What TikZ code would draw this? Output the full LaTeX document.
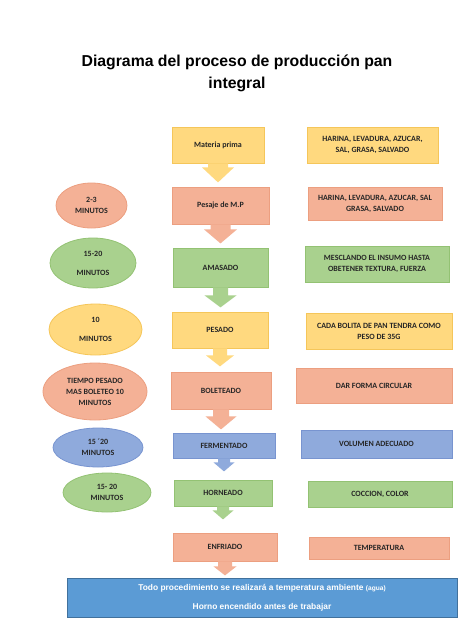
\documentclass[tikz,border=0pt]{standalone}
\usepackage{fontspec}
\setmainfont{Carlito}
\newfontfamily\titlefont{Liberation Sans}
\usetikzlibrary{shapes.geometric,calc}
\definecolor{yel}{HTML}{FFD97F}
\definecolor{yelB}{HTML}{F5C65A}
\definecolor{sal}{HTML}{F4B196}
\definecolor{salB}{HTML}{EC9F80}
\definecolor{grn}{HTML}{A9D18E}
\definecolor{grnB}{HTML}{93C273}
\definecolor{blu}{HTML}{8FAADC}
\definecolor{bluB}{HTML}{7894D0}
\definecolor{bot}{HTML}{5B9BD5}
\definecolor{botB}{HTML}{41719C}
\newcommand\barrow[6]{% node, colour, shaft half, head half, head start, tip
  \fill[#2] ($(#1.south)+(-#3,0)$) -- ($(#1.south)+(#3,0)$) -- ($(#1.south)+(#3,#5)$)
    -- ($(#1.south)+(#4,#5)$) -- ($(#1.south)+(0,#6)$) -- ($(#1.south)+(-#4,#5)$)
    -- ($(#1.south)+(-#3,#5)$) -- cycle;}
\tikzset{
  box/.style={rectangle, draw=#1B, fill=#1, line width=0.8pt, inner sep=0pt,
    align=center, text=black!85, font=\fontsize{8}{11}\selectfont\bfseries},
  oval/.style={ellipse, draw=#1B, fill=#1, line width=0.8pt, inner sep=0pt,
    align=center, text=black!85, font=\fontsize{8}{11}\selectfont\bfseries},
}
\begin{document}
\begin{tikzpicture}[x=1pt,y=-1pt]
\useasboundingbox[fill=white] (0,0) rectangle (474,632);
% title
\node[font=\titlefont\fontsize{15.8}{22}\selectfont\bfseries, align=center] (title) at (237,73.5)
  {Diagrama del proceso de producción pan\\integral};
% centre column
\node[box=yel, minimum width=92, minimum height=36] (c1) at (218,145) {Materia prima};
\node[box=sal, minimum width=97, minimum height=37] (c2) at (220.5,205.5) {Pesaje de M.P};
\node[box=grn, minimum width=95, minimum height=39] (c3) at (220.5,267.5) {AMASADO};
\node[box=yel, minimum width=96, minimum height=36] (c4) at (220,330) {PESADO};
\node[box=sal, minimum width=100, minimum height=37] (c5) at (221,390.5) {BOLETEADO};
\node[box=blu, minimum width=102, minimum height=25] (c6) at (224,445.5) {FERMENTADO};
\node[box=grn, minimum width=98, minimum height=26] (c7) at (223,493) {HORNEADO};
\node[box=sal, minimum width=104, minimum height=28] (c8) at (225,547) {ENFRIADO};
% block arrows
\barrow{c1}{yel}{10}{16}{4}{19}
\barrow{c2}{sal}{10}{16.5}{5}{19}
\barrow{c3}{grn}{7.5}{16}{8}{20}
\barrow{c4}{yel}{7}{14}{7}{18}
\barrow{c5}{sal}{8}{15.5}{7}{20}
\barrow{c6}{blu}{6}{10.5}{4}{13}
\barrow{c7}{grn}{6}{10.5}{4}{13}
\barrow{c8}{sal}{7}{11.5}{5}{14}
% right column
\node[box=yel, minimum width=131, minimum height=36] (r1) at (372.5,145) {HARINA, LEVADURA, AZUCAR,\\SAL, GRASA, SALVADO};
\node[box=sal, minimum width=134, minimum height=33] (r2) at (375,203.5) {HARINA, LEVADURA, AZUCAR, SAL\\GRASA, SALVADO};
\node[box=grn, minimum width=144, minimum height=36] (r3) at (377,264) {MESCLANDO EL INSUMO HASTA\\OBETENER TEXTURA, FUERZA};
\node[box=yel, minimum width=146, minimum height=36] (r4) at (379,331) {CADA BOLITA DE PAN TENDRA COMO\\PESO DE 35G};
\node[box=sal, minimum width=156, minimum height=35] (r5) at (374,385.5) {DAR FORMA CIRCULAR};
\node[box=blu, minimum width=151, minimum height=28] (r6) at (376.5,444) {VOLUMEN ADECUADO};
\node[box=grn, minimum width=144, minimum height=26] (r7) at (380,494) {COCCION, COLOR};
\node[box=sal, minimum width=140, minimum height=22] (r8) at (379,548) {TEMPERATURA};
% left ellipses
\node[oval=sal, minimum width=71, minimum height=45] (e1) at (91.5,205.5) {2-3\\MINUTOS};
\node[oval=grn, minimum width=86, minimum height=50] (e2) at (93,263) {15-20\\[8pt]MINUTOS};
\node[oval=yel, minimum width=93, minimum height=51] (e3) at (95.5,329.5) {10\\[8pt]MINUTOS};
\node[oval=sal, minimum width=104, minimum height=57] (e4) at (95,391.5) {TIEMPO PESADO\\MAS BOLETEO 10\\MINUTOS};
\node[oval=blu, minimum width=90, minimum height=39] (e5) at (98,447.5) {15 ´20\\MINUTOS};
\node[oval=grn, minimum width=88, minimum height=39] (e6) at (107,492.5) {15- 20\\MINUTOS};
% bottom note
\node[rectangle, draw=botB, fill=bot, line width=0.8pt, minimum width=390, minimum height=39,
  inner sep=0pt, align=center, text=white,
  font=\titlefont\fontsize{8.4}{19}\selectfont\bfseries] (note) at (262,597.5)
  {Todo procedimiento se realizará a temperatura ambiente {\fontsize{6.6}{19}\selectfont(agua)}\\Horno encendido antes de trabajar};
\end{tikzpicture}
\end{document}
